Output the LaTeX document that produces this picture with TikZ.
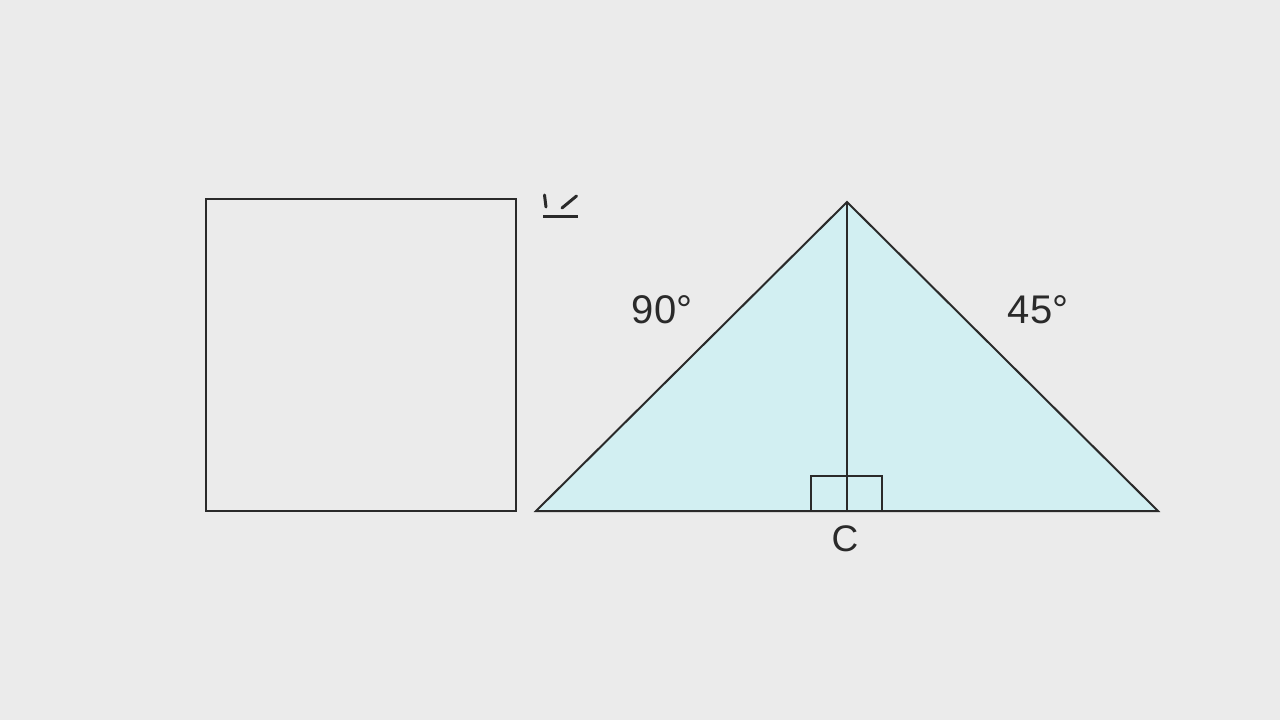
\documentclass[tikz,border=0pt]{standalone}
\usepackage{fontspec}
\setmainfont{Liberation Sans}
\definecolor{bg}{HTML}{EBEBEB}
\definecolor{ink}{HTML}{2A2A2A}
\definecolor{tri}{HTML}{D2EFF2}
\tikzset{
  edge/.style={draw=ink, line width=2pt, line join=miter},
  lbl/.style={text=ink, inner sep=0pt, font=\fontsize{40}{40}\selectfont},
  lblc/.style={text=ink, inner sep=0pt, font=\fontsize{37}{37}\selectfont},
  markstroke/.style={draw=ink, line width=3pt, line cap=round},
}
\begin{document}
\begin{tikzpicture}[x=1pt,y=-1pt]
\fill[bg] (0,0) rectangle (1280,720);
\useasboundingbox (0,0) rectangle (1280,720);
% square
\draw[edge] (206,199) rectangle (516,511);
% odd mark
\draw[markstroke] (544.5,195) -- (546,207);
\draw[markstroke] (562,208) -- (576.5,196);
\draw[ink, line width=3pt] (543,216) -- (578,216);
% triangle
\coordinate (A) at (536,511);
\coordinate (B) at (1158,511);
\coordinate (T) at (847,202);
\coordinate (F) at (847,511);
\fill[tri] (A) -- (T) -- (B) -- cycle;
\draw[edge] (A) -- (T) -- (B) -- cycle;
\draw[edge] (T) -- (F);
\draw[edge] (811,511) -- (811,476) -- (882,476) -- (882,511);
\node[lblc] (c) at (845,539) {C};
\node[lbl] (a90) at (662,310) {90°};
\node[lbl] (a45) at (1038,310) {45°};
\end{tikzpicture}
\end{document}
